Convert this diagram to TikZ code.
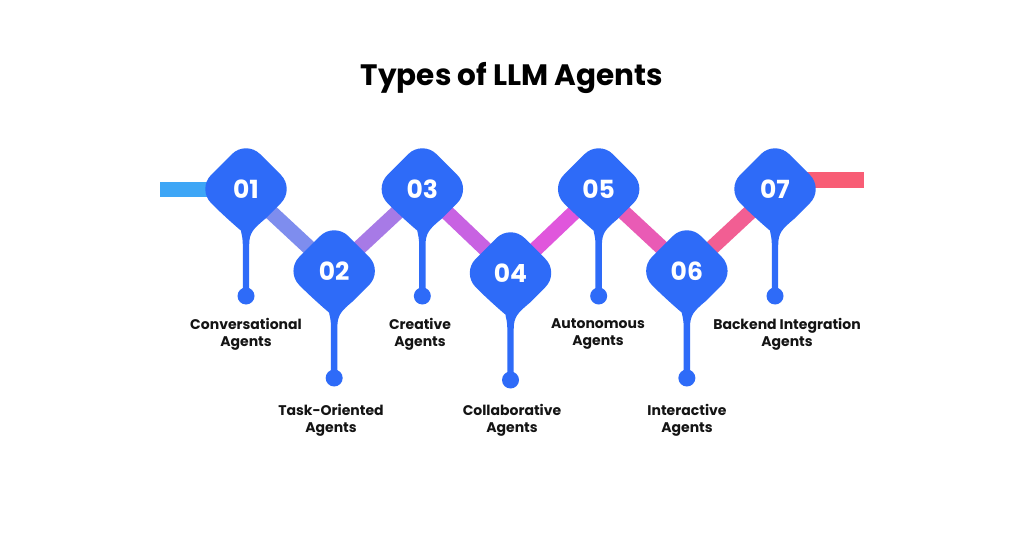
\documentclass[tikz,border=0pt]{standalone}
\usepackage{fontspec}
\setmainfont{Poppins}
\pgfdeclarelayer{bg}
\pgfdeclarelayer{mid}
\pgfsetlayers{bg,mid,main}
\definecolor{dripblue}{HTML}{2E6BF8}
\definecolor{cA}{HTML}{3EA6F6}
\definecolor{cB}{HTML}{7E8DEE}
\definecolor{cC}{HTML}{A77AE6}
\definecolor{cD}{HTML}{C862E2}
\definecolor{cE}{HTML}{E056DC}
\definecolor{cF}{HTML}{E95BB5}
\definecolor{cG}{HTML}{F25E93}
\definecolor{cH}{HTML}{F85D75}
\definecolor{ink}{HTML}{141414}
\tikzset{
  band/.style={line width=15pt},
  num/.style={text=white, font=\fontsize{25}{25}\selectfont\bfseries, inner sep=0pt},
  lbl/.style={text=ink, font=\fontsize{14}{17}\selectfont\bfseries, align=center, inner sep=0pt},
  ttl/.style={text=black, font=\fontsize{29.5}{32}\selectfont\bfseries, inner sep=0pt},
  drip/.style={fill=dripblue}
}
\begin{document}
\begin{tikzpicture}[x=1pt,y=-1pt]
\useasboundingbox (0,0) rectangle (1024,540);
\node[ttl] (title) at (512,78) {Types of LLM Agents};
\foreach \i/\y in {1/189,2/271,3/189,4/273,5/189,6/271,7/189}
  \node[num] (n\i) at ({246+88.17*(\i-1)},\y) {0\i};
\coordinate (start) at (160,189);
\coordinate (end) at (864,180);
\begin{pgfonlayer}{bg}
  \fill[white] (0,0) rectangle (1024,540);
  \draw[band, cA] (start) -- (n1.center);
  \draw[band, cB] (n1.center) -- (n2.center);
  \draw[band, cC] (n2.center) -- (n3.center);
  \draw[band, cD] (n3.center) -- (n4.center);
  \draw[band, cE] (n4.center) -- (n5.center);
  \draw[band, cF] (n5.center) -- (n6.center);
  \draw[band, cG] (n6.center) -- (n7.center);
  \draw[band, cH] (end -| n7.center) -- (end);
\end{pgfonlayer}
\begin{pgfonlayer}{mid}
\foreach \i in {1,...,7}{
  \begin{scope}[shift={(n\i.center)}]
    \fill[drip] (3.2,102) -- (3.2,56) .. controls (3.2,44) and (7,40) .. (19,30)
      [rounded corners=20pt] -- (49,0) -- (0,-49) -- (-49,0) -- (-19,30) [sharp corners]
      .. controls (-7,40) and (-3.2,44) .. (-3.2,56) -- (-3.2,102) -- cycle;
    \fill[drip] (0,107) circle (8.5);
  \end{scope}
}
\end{pgfonlayer}
\node[lbl] (l1) at (246,334) {Conversational\\Agents};
\node[lbl] (l2) at (331,420) {Task-Oriented\\Agents};
\node[lbl] (l3) at (420,334) {Creative\\Agents};
\node[lbl] (l4) at (512,420) {Collaborative\\Agents};
\node[lbl] (l5) at (598,334) {Autonomous\\Agents};
\node[lbl] (l6) at (687,420) {Interactive\\Agents};
\node[lbl] (l7) at (787,334) {Backend Integration\\Agents};
\end{tikzpicture}
\end{document}
